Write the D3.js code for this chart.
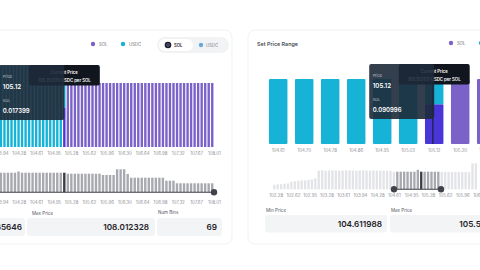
<!DOCTYPE html>
<html>
<head>
<meta charset="utf-8">
<script src="https://cdnjs.cloudflare.com/ajax/libs/d3/7.8.5/d3.min.js"></script>
<style>
  body { margin: 0; background: #ffffff; }
  svg { display: block; font-family: Inter, "Noto Sans", sans-serif; }
</style>
</head>
<body>
<svg id="chart" width="480" height="270"></svg>
<script>
// ---------------- data ----------------
const currentPrice = 105.153131;
const hoverLabel = '105.12';
const legendNames = ['SOL', 'USDC'];

// left panel: full range, 69 bins
const leftMinPrice = 103.365646;
const leftMaxPrice = 108.012328;
const leftNumBins = 69;
const leftHoverBin = 26;
const leftHoverSol = '0.017399';
const leftTickLabels = [103.94, 104.28, 104.61, 104.95, 105.28, 105.62, 105.96, 106.30, 106.64, 106.98, 107.32, 107.67, 108.01];
const leftMainUsdc = [
  1.27, 1.27, 1.27, 1.27, 1.27, 1.27, 1.27, 1.27, 1.27, 1.27, 1.27, 1.27, 1.27,
  1.27, 1.27, 1.27, 1.27, 1.27, 1.27, 1.27, 1.27, 1.27, 1.27, 1.27, 1.27, 1.27,
  0.62, 0, 0, 0, 0, 0, 0, 0, 0, 0, 0, 0, 0, 0, 0, 0, 0, 0, 0, 0, 0, 0, 0, 0,
  0, 0, 0, 0, 0, 0, 0, 0, 0, 0, 0, 0, 0, 0, 0, 0, 0, 0, 0];
const leftMainSol = [
  0, 0, 0, 0, 0, 0, 0, 0, 0, 0, 0, 0, 0, 0, 0, 0, 0, 0, 0, 0, 0, 0, 0, 0, 0, 0,
  0.62, 1, 1, 1, 1, 1, 1, 1, 1, 1, 1, 1, 1, 1, 1, 1, 1, 1, 1, 1, 1, 1, 1, 1,
  1, 1, 1, 1, 1, 1, 1, 1, 1, 1, 1, 1, 1, 1, 1, 1, 1, 1, 1];
const leftBrushValues = [
  19.6, 19.6, 19.6, 19.6, 19.6, 19.6, 19.6, 19.6, 19.6, 19.6, 19.6, 19.6, 19.6,
  20.8, 19.6, 19.6, 19.6, 19.6, 19.6, 19.6, 19.6, 19.6, 19.6, 19.6, 19.6, 19.6,
  19.6, 18.6, 18.6, 18.6, 18.6, 18.6, 18.6, 18.6, 18.6, 18.6, 18.6,
  17.3, 17.3, 17.3, 17.3, 23, 23, 23, 18.3,
  14.6, 14.6, 14.6, 14.6, 14.6, 14.6, 14.6, 14.6, 14.6, 14.6,
  11.6, 11.6, 11.6,
  9, 9, 9, 9, 9, 9, 9, 9, 9, 9, 9];

// right panel: selected range, 11 bins
const rightMinPrice = 104.611988;
const rightMaxPrice = 105.538412;
const rightBinLabels = ['104.61', '104.70', '104.78', '104.86', '104.95', '105.03', '105.12', '105.20', '105.28', '105.37', '105.45'];
const rightUsdc = [1, 1, 1, 1, 1, 1, 0.39, 0, 0, 0, 0];
const rightSol = [0, 0, 0, 0, 0, 0, 0.61, 1, 1, 1, 1];
const rightHoverBin = 6;
const rightHoverSol = '0.090996';
const rightBrushStart = 102.22;
const rightBrushBinWidth = 0.067343;
const rightBrushTicks = [102.28, 102.62, 102.95, 103.28, 103.61, 103.94, 104.28, 104.61, 104.95, 105.28, 105.62, 105.96, 106.30];
const rightBrushValues = [
  4.5, 5, 5, 5.5, 6, 7.5, 8, 8.5, 9, 9, 9.5, 10, 11,
  18.8, 19, 18.6, 18.8, 19, 18.8, 18.6, 18.8, 19, 18.8, 18.8, 18.6, 18.8, 19, 18.8,
  18.6, 18.8, 18.8, 18.6, 18.6, 18.5, 18.6,
  17.6, 17.6, 17.6, 17.6, 17.6, 17.6, 17.6, 19.5, 17.6, 17.6, 17.6, 17.6, 17.6, 17.6,
  17.4, 17.4, 17.4, 17.2, 17.2, 17.2, 17.2, 17.2, 17.2, 26, 26];

// ---------------- styles ----------------
const purple = '#7b62c9';
const cyan = '#17b3d6';
const indigo = '#4a36d6';
const gray = '#8b8e94';

const svg = d3.select('#chart');

function card(x, y, w, h) {
  svg.append('rect')
    .attr('x', x).attr('y', y).attr('width', w).attr('height', h)
    .attr('rx', 7).attr('fill', '#fff')
    .attr('stroke', '#f0f1f4');
}

function label(g, x, y, txt, size, color, anchor = 'start', weight = 400) {
  return g.append('text')
    .attr('x', x).attr('y', y)
    .attr('dominant-baseline', 'central')
    .attr('text-anchor', anchor)
    .attr('font-size', size)
    .attr('font-weight', weight)
    .attr('fill', color)
    .text(txt);
}

function legend(g, x, y) {
  const colors = [purple, cyan];
  legendNames.forEach((n, i) => {
    const lx = x + i * 30;
    g.append('circle').attr('cx', lx).attr('cy', y).attr('r', 2.2).attr('fill', colors[i]);
    label(g, lx + 6, y + 0.3, n, 4.3, '#6b6e75');
  });
}

function tooltips(g, cx, top, solAmount) {
  // current price box (sits below the price box)
  g.append('rect')
    .attr('x', cx - 35.5).attr('y', top).attr('width', 71).attr('height', 20.5)
    .attr('rx', 2).attr('fill', '#11151e');
  label(g, cx, top + 7.5, 'Current Price', 4.2, '#fff', 'middle', 600);
  label(g, cx, top + 15, currentPrice.toFixed(6) + ' USDC per SOL', 4.3, '#fff', 'middle', 600);

  // price box on top
  g.append('rect')
    .attr('x', cx - 65).attr('y', top).attr('width', 65).attr('height', 55)
    .attr('rx', 2).attr('fill', '#1e2a3a').attr('opacity', 0.9);
  label(g, cx - 61.5, top + 11, 'Price', 3.8, '#b9c0cb');
  label(g, cx - 61.5, top + 21, hoverLabel, 6.2, '#fff', 'start', 600);
  label(g, cx - 61.5, top + 35, 'SOL', 3.8, '#b9c0cb');
  label(g, cx - 61.5, top + 45.5, solAmount, 6, '#fff', 'start', 600);
}

function inputBox(g, lx, ly, bx, by, bw, bh, title, value, valueX) {
  if (title) label(g, lx, ly, title, 4.5, '#55585f');
  g.append('rect').attr('x', bx).attr('y', by).attr('width', bw).attr('height', bh)
    .attr('rx', 3).attr('fill', '#f3f4f6');
  label(g, valueX, by + bh / 2, value, 8.2, '#1f2228', 'end', 600);
}

function brush(g, xs, binStart, binWidth, values, baseY, ticks, tickY, selMin, selMax) {
  const y = d3.scaleLinear().domain([0, 25]).range([baseY, baseY - 25]);
  const curBin = Math.floor((currentPrice - binStart) / binWidth);
  const step = xs(binStart + binWidth) - xs(binStart);
  g.append('g').selectAll('rect').data(values).join('rect')
    .attr('x', (d, i) => xs(binStart + i * binWidth) + step * 0.15)
    .attr('width', step * 0.68)
    .attr('y', d => y(d))
    .attr('height', d => y(0) - y(d))
    .attr('fill', (d, i) => {
      if (i === curBin) return '#3a3d45';
      const c = binStart + (i + 0.5) * binWidth;
      return (c >= selMin && c <= selMax) ? '#a7a9af' : '#e3e4e7';
    });

  g.append('line')
    .attr('x1', xs(selMin)).attr('x2', xs(selMax))
    .attr('y1', baseY).attr('y2', baseY)
    .attr('stroke', '#40434b').attr('stroke-width', 1.1);
  [selMin, selMax].forEach(p => {
    g.append('circle').attr('cx', xs(p)).attr('cy', baseY).attr('r', 3.2).attr('fill', '#40434b');
  });

  const axis = d3.axisBottom(xs).tickValues(ticks).tickFormat(d3.format('.2f')).tickSize(0);
  const ax = g.append('g').attr('transform', `translate(0,${tickY})`).call(axis);
  ax.select('.domain').remove();
  ax.selectAll('text').attr('font-size', 4.4).attr('fill', gray)
    .attr('font-family', 'Inter, sans-serif').attr('dy', 0);
}

// ---------------- cards ----------------
card(-10, 30, 242, 214);
card(248, 30, 250, 214);

// ---------------- left panel ----------------
const L = svg.append('g');

legend(L, 93, 44);
// SOL / USDC toggle
L.append('rect').attr('x', 157).attr('y', 37).attr('width', 72).attr('height', 16).attr('rx', 8).attr('fill', '#f2f3f5');
L.append('rect').attr('x', 158.5).attr('y', 38.5).attr('width', 35).attr('height', 13).attr('rx', 6.5)
  .attr('fill', '#fff').attr('stroke', '#e6e7ea').attr('stroke-width', 0.4);
L.append('circle').attr('cx', 168).attr('cy', 45).attr('r', 3.3).attr('fill', '#1d1e24');
L.append('circle').attr('cx', 168).attr('cy', 45).attr('r', 1.4).attr('fill', 'none').attr('stroke', '#8a7de0').attr('stroke-width', 0.6);
label(L, 174, 45.3, 'SOL', 4.3, '#1f2228', 'start', 600);
L.append('circle').attr('cx', 201).attr('cy', 45).attr('r', 2.2).attr('fill', '#6aa8e0');
label(L, 206, 45.3, 'USDC', 4.3, '#7a7d84');

const xL = d3.scaleLinear().domain([leftMinPrice, leftMaxPrice]).range([-29, 214]);
const xLBand = d3.scaleBand().domain(d3.range(leftNumBins)).range([-29, 214]).paddingInner(0.32).paddingOuter(0.16);
const yL = d3.scaleLinear().domain([0, 1]).range([147, 83]);

const leftBars = L.append('g');
leftBars.selectAll('rect.sol').data(leftMainSol).join('rect')
  .attr('class', 'sol')
  .attr('x', (d, i) => xLBand(i)).attr('width', xLBand.bandwidth())
  .attr('y', d => yL(d)).attr('height', d => yL(0) - yL(d))
  .attr('fill', (d, i) => i === leftHoverBin ? indigo : purple);
leftBars.selectAll('rect.usdc').data(leftMainUsdc).join('rect')
  .attr('class', 'usdc')
  .attr('x', (d, i) => xLBand(i)).attr('width', xLBand.bandwidth())
  .attr('y', (d, i) => yL(d + leftMainSol[i])).attr('height', d => yL(0) - yL(d))
  .attr('fill', cyan);

const axL = d3.axisBottom(xL).tickValues(leftTickLabels).tickFormat(d3.format('.2f')).tickSize(0);
const axLg = L.append('g').attr('transform', 'translate(0,151.5)').call(axL);
axLg.select('.domain').remove();
axLg.selectAll('text').attr('font-size', 4.4).attr('fill', gray).attr('font-family', 'Inter, sans-serif').attr('dy', 0);

const leftBinWidth = (leftMaxPrice - leftMinPrice) / leftNumBins;
brush(L, xL, leftMinPrice, leftBinWidth, leftBrushValues, 192.3, leftTickLabels, 201, leftMinPrice, leftMaxPrice);

tooltips(L, xLBand(leftHoverBin) + xLBand.bandwidth() / 2, 65, leftHoverSol);

inputBox(L, 0, 0, -120, 218, 145, 18, null, leftMinPrice.toFixed(6), 22);
inputBox(L, 32, 213.5, 27, 218, 128, 18, 'Max Price', leftMaxPrice.toFixed(6), 149);
inputBox(L, 158, 212.5, 157, 218, 65, 18, 'Num Bins', String(leftNumBins), 217);

// ---------------- right panel ----------------
const R = svg.append('g');
label(R, 257, 43.5, 'Set Price Range', 5.4, '#30333a', 'start', 500);
legend(R, 451, 43);

const xR = d3.scaleBand().domain(rightBinLabels).range([265.2, 551.2]).paddingInner(0.29).paddingOuter(0.145);
const yR = d3.scaleLinear().domain([0, 1]).range([144, 79]);

R.append('g').selectAll('rect').data(rightBinLabels).join('rect')
  .attr('x', d => xR(d)).attr('width', xR.bandwidth())
  .attr('y', (d, i) => yR(rightSol[i])).attr('height', (d, i) => yR(0) - yR(rightSol[i]))
  .attr('rx', 1)
  .attr('fill', (d, i) => i === rightHoverBin ? indigo : purple);
R.append('g').selectAll('rect').data(rightBinLabels).join('rect')
  .attr('x', d => xR(d)).attr('width', xR.bandwidth())
  .attr('y', (d, i) => yR(rightSol[i] + rightUsdc[i])).attr('height', (d, i) => yR(0) - yR(rightUsdc[i]))
  .attr('rx', 1)
  .attr('fill', cyan);

// current price marker inside its bin
const rBinW = (rightMaxPrice - rightMinPrice) / 11;
const rCur = Math.floor((currentPrice - rightMinPrice) / rBinW);
const rFrac = (currentPrice - rightMinPrice) / rBinW - rCur;
const rCurX = xR(rightBinLabels[rCur]) + rFrac * xR.bandwidth();
R.append('line').attr('x1', rCurX).attr('x2', rCurX)
  .attr('y1', yR(rightSol[rCur] + rightUsdc[rCur])).attr('y2', yR(0))
  .attr('stroke', '#272468').attr('stroke-width', 1.6);

const axR = d3.axisBottom(xR).tickSize(0);
const axRg = R.append('g').attr('transform', 'translate(0,149)').call(axR);
axRg.select('.domain').remove();
axRg.selectAll('text').attr('font-size', 4.4).attr('fill', gray).attr('font-family', 'Inter, sans-serif').attr('dy', 0);

const xRB = d3.scaleLinear().domain([rightMinPrice, rightMaxPrice]).range([394, 441]);
brush(R, xRB, rightBrushStart, rightBrushBinWidth, rightBrushValues, 189.3, rightBrushTicks, 193.5, rightMinPrice, rightMaxPrice);

tooltips(R, xR(rightBinLabels[rightHoverBin]) + xR.bandwidth() / 2, 64, rightHoverSol);

inputBox(R, 266, 210, 265, 215, 122, 17.5, 'Min Price', rightMinPrice.toFixed(6), 382);
inputBox(R, 391, 210, 390, 215, 130, 17.5, 'Max Price', rightMaxPrice.toFixed(6), 505);
</script>
</body>
</html>
